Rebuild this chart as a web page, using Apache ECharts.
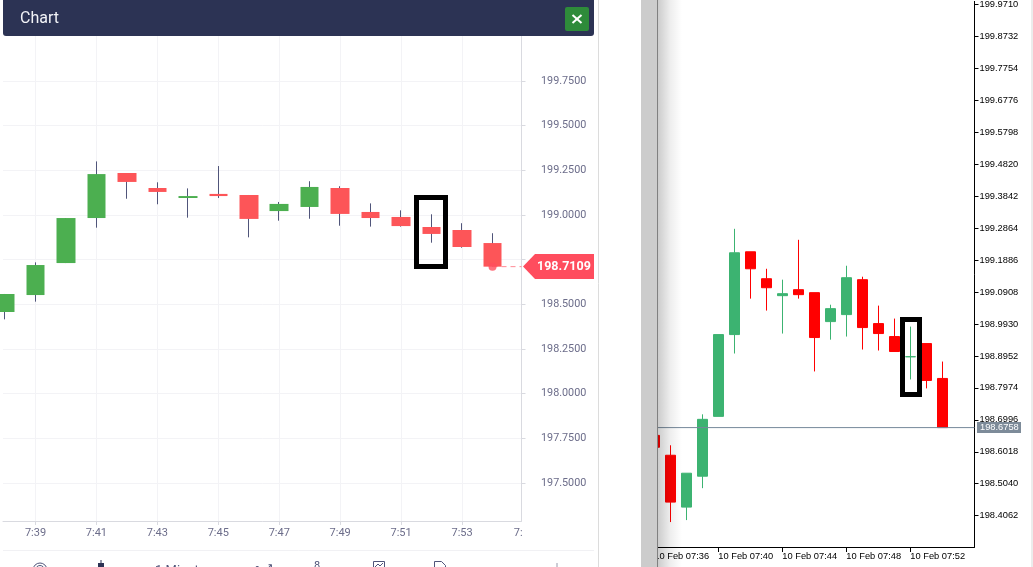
<!DOCTYPE html>
<html><head><meta charset="utf-8">
<style>html,body{margin:0;padding:0;background:#fff;overflow:hidden}#c{width:1033px;height:567px}</style>
<script src="https://cdn.jsdelivr.net/npm/echarts@6/dist/echarts.min.js"></script>
</head><body><div id="c"></div>
<script>
// Left chart (web terminal) data: minutes past 7:00
const leftMinutes = [38,39,40,41,42,43,44,45,46,47,48,49,50,51,52,53,54];
const leftOpen  = [198.457,198.552,198.731,198.983,199.235,199.151,199.095,199.118,199.112,199.022,199.045,199.151,199.017,198.989,198.933,198.916,198.843];
const leftClose = [198.558,198.720,198.983,199.229,199.185,199.129,199.106,199.106,198.978,199.062,199.157,199.006,198.983,198.938,198.894,198.821,198.7109];
const leftLow   = [198.416,198.515,198.731,198.929,199.091,199.060,198.985,199.095,198.875,198.968,198.979,198.940,198.935,198.935,198.845,198.817,198.7109];
const leftHigh  = [198.558,198.735,198.983,199.300,199.235,199.183,199.149,199.274,199.112,199.073,199.189,199.161,199.065,199.026,199.004,198.954,198.898];
const leftPriceTicks = [199.75,199.5,199.25,199,198.75,198.5,198.25,198,197.75,197.5];
const leftTimeTicks = [39,41,43,45,47,49,51,53];
const leftTimeLabels = ['7:39','7:41','7:43','7:45','7:47','7:49','7:51','7:53'];
const leftLastPrice = 198.7109;

// Right chart (MetaTrader) data
const rightMinutes = [36,37,38,39,40,41,42,43,44,45,46,47,48,49,50,51,52,53,54];
const rightOpen  = [198.652,198.5912,198.4324,198.5270,198.7102,198.9606,199.214,199.1316,199.0797,199.098,199.0889,199.0003,199.0217,199.1286,198.9942,198.9545,198.8925,198.9331,198.8263];
const rightClose = [198.6156,198.4477,198.5362,198.7011,198.9606,199.211,199.162,199.104,199.0858,199.0828,198.9515,199.04,199.1347,198.982,198.9637,198.9087,198.8930,198.8202,198.6758];
const rightLow   = [198.6156,198.3866,198.3927,198.4904,198.7102,198.9026,199.0706,199.034,198.9637,199.0706,198.8477,198.945,198.9545,198.9148,198.9118,198.9087,198.8232,198.7958,198.6758];
const rightHigh  = [198.652,198.6217,198.5362,198.7164,198.9606,199.2843,199.214,199.162,199.1286,199.2507,199.0889,199.052,199.1713,199.1377,199.0492,199.0095,198.985,198.9331,198.878];
const rightPriceTicks = [199.971,199.8732,199.7754,199.6776,199.5798,199.482,199.3842,199.2864,199.1886,199.0908,198.993,198.8952,198.7974,198.6996,198.6018,198.504,198.4062];
const rightTimeTicks = [36,40,44,48,52];
const rightTimeLabels = ['10 Feb 07:36','10 Feb 07:40','10 Feb 07:44','10 Feb 07:48','10 Feb 07:52'];
const rightLastPrice = 198.6758;

const chart = echarts.init(document.getElementById('c'), null, {renderer:'canvas'});
const L_MIN = 37.934, L_MAX = 54.951, R_MIN = 35.231, R_MAX = 56.01;
const leftAxisColor = '#d9dae0', leftSplit = '#f3f3f6', leftText = '#6c6d8a';
const navy = '#2c3354', tagRed = '#ff4d5e';

chart.setOption({
  animation:false,
  backgroundColor:'#ffffff',
  grid:[
    {left:3, top:36, width:518.5, height:485, containLabel:false},
    {left:642, top:0, width:332.5, height:547, containLabel:false}
  ],
  xAxis:[
    {type:'value', gridIndex:0, min:L_MIN, max:L_MAX, position:'bottom',
     axisLine:{lineStyle:{color:leftAxisColor}},
     axisTick:{length:4, lineStyle:{color:leftAxisColor}, customValues:leftTimeTicks},
     splitLine:{show:true, lineStyle:{color:leftSplit}},
     axisLabel:{customValues:leftTimeTicks.concat([54.84]), color:leftText, fontFamily:'Roboto', fontSize:11, margin:7,
       formatter:v=>{const i=leftTimeTicks.indexOf(v); return i>=0?leftTimeLabels[i]:'7:';}}},
    {type:'value', gridIndex:1, min:R_MIN, max:R_MAX, position:'bottom',
     axisLine:{lineStyle:{color:'#000'}},
     axisTick:{length:5, lineStyle:{color:'#000'}, customValues:rightTimeTicks},
     splitLine:{show:false},
     axisLabel:{customValues:rightTimeTicks, color:'#000', fontFamily:'Liberation Sans', fontSize:9.3, margin:5, align:'left',
       formatter:v=>rightTimeLabels[rightTimeTicks.indexOf(v)]}}
  ],
  yAxis:[
    {type:'value', gridIndex:0, position:'right', min:197.2874, max:200.0018,
     axisLine:{show:true, lineStyle:{color:leftAxisColor}},
     axisTick:{show:true, length:4, lineStyle:{color:leftAxisColor}, customValues:leftPriceTicks},
     splitLine:{show:true, lineStyle:{color:leftSplit}},
     axisLabel:{customValues:leftPriceTicks, color:leftText, fontFamily:'Roboto', fontSize:10.8, margin:19.5, padding:[2,0,0,0], formatter:v=>v.toFixed(4)}},
    {type:'value', gridIndex:1, position:'right', min:198.3103, max:199.9805,
     axisLine:{show:true, lineStyle:{color:'#000'}},
     axisTick:{show:true, length:4, lineStyle:{color:'#000'}, customValues:rightPriceTicks},
     splitLine:{show:false},
     axisLabel:{customValues:rightPriceTicks, color:'#000', fontFamily:'Liberation Sans', fontSize:9.3, margin:5, formatter:v=>v.toFixed(4)}}
  ],
  series:[
    {type:'candlestick', name:'wicks', xAxisIndex:0, yAxisIndex:0, barWidth:1, z:2,
     itemStyle:{color:'#50557a',color0:'#50557a',borderColor:'#50557a',borderColor0:'#50557a',borderWidth:1},
     data:leftMinutes.map((m,i)=>[m,leftOpen[i],leftClose[i],leftLow[i],leftHigh[i]])},
    {type:'candlestick', name:'bodies', xAxisIndex:0, yAxisIndex:0, barWidth:19, z:3,
     itemStyle:{color:'#4caf50',color0:'#fd5558',borderColor:'#4caf50',borderColor0:'#fd5558',borderWidth:0},
     data:leftMinutes.map((m,i)=>[m,leftOpen[i],leftClose[i],Math.min(leftOpen[i],leftClose[i]),Math.max(leftOpen[i],leftClose[i])])},
    {type:'line', xAxisIndex:0, yAxisIndex:0, symbol:'none', z:3, silent:true,
     lineStyle:{color:'#ff8a94', width:1, type:[5,4]},
     data:[[leftMinutes[leftMinutes.length-1],leftLastPrice],[L_MAX,leftLastPrice]]},
    {type:'scatter', xAxisIndex:0, yAxisIndex:0, symbolSize:8, z:4, itemStyle:{color:tagRed},
     data:[[leftMinutes[leftMinutes.length-1],leftLastPrice]]},
    {type:'line', xAxisIndex:1, yAxisIndex:1, symbol:'none', z:4, silent:true,
     lineStyle:{color:'#76889a', width:1},
     data:[[R_MIN,rightLastPrice],[R_MAX,rightLastPrice]]},
    {type:'candlestick', xAxisIndex:1, yAxisIndex:1, barWidth:10, z:3,
     itemStyle:{color:'#3cb371',color0:'#ff0000',borderColor:'#3cb371',borderColor0:'#ff0000',borderWidth:1},
     data:rightMinutes.map((m,i)=>[m,rightOpen[i],rightClose[i],rightLow[i],rightHigh[i]])}
  ],
  graphic:[
    // left panel frame
    {type:'rect', z:60, shape:{x:3,y:0,width:591,height:36,r:[0,0,3,3]}, style:{fill:navy}},
    {type:'text', z:61, x:20, y:19, style:{text:'Chart', fill:'#f2f3f7', font:'16px Roboto', textVerticalAlign:'middle'}},
    {type:'rect', z:61, shape:{x:565,y:7,width:24,height:24,r:2}, style:{fill:'#2e8b3a'}},
    {type:'line', z:62, shape:{x1:572.5,y1:15,x2:581.5,y2:23}, style:{stroke:'#fff',lineWidth:2}},
    {type:'line', z:62, shape:{x1:581.5,y1:15,x2:572.5,y2:23}, style:{stroke:'#fff',lineWidth:2}},
    {type:'line', z:60, shape:{x1:598.5,y1:0,x2:598.5,y2:567}, style:{stroke:'#dcdcdc',lineWidth:1}},
    // price tag
    {type:'polygon', z:60, shape:{points:[[523,266.5],[535,254],[594,254],[594,279],[535,279]]}, style:{fill:tagRed}},
    {type:'text', z:61, x:537, y:267, style:{text:'198.7109', fill:'#fff', font:'bold 12.5px Roboto', textVerticalAlign:'middle'}},
    // highlight boxes
    {type:'rect', z:60, shape:{x:416.5,y:197.5,width:29,height:69}, style:{fill:'none',stroke:'#000',lineWidth:5}},
    {type:'rect', z:60, shape:{x:902.5,y:319.5,width:17,height:75}, style:{fill:'none',stroke:'#000',lineWidth:5}},
    // bottom toolbar, cut by the window
    {type:'line', z:60, shape:{x1:3,y1:550.5,x2:594,y2:550.5}, style:{stroke:'#f1f1f4',lineWidth:1}},
    {type:'circle', z:60, shape:{cx:40,cy:570,r:7}, style:{fill:'none',stroke:'#50557a',lineWidth:1}},
    {type:'circle', z:60, shape:{cx:40,cy:570,r:4.5}, style:{fill:'none',stroke:'#50557a',lineWidth:1}},
    {type:'rect', z:60, shape:{x:98,y:563,width:6,height:6}, style:{fill:'#2c3354'}},
    {type:'line', z:60, shape:{x1:101,y1:560,x2:101,y2:564}, style:{stroke:'#2c3354',lineWidth:1}},
    {type:'text', z:60, x:155, y:564.5, style:{text:'1 Minute', fill:'#50557a', font:'13px Roboto'}},
    {type:'text', z:60, x:254, y:562.5, style:{text:'\u2022 \u2197', fill:'#50557a', font:'11px "DejaVu Sans"'}},
    {type:'text', z:60, x:314, y:561, style:{text:'8', fill:'#50557a', font:'11px Roboto'}},
    {type:'rect', z:60, shape:{x:373.5,y:561.5,width:11,height:10}, style:{fill:'none',stroke:'#50557a',lineWidth:1}},
    {type:'polyline', z:60, shape:{points:[[375,567],[378,564],[380,566],[383,563]]}, style:{fill:'none',stroke:'#50557a',lineWidth:1}},
    {type:'polygon', z:60, shape:{points:[[434.5,571],[434.5,561.5],[441.5,561.5],[445.5,565.5],[445.5,571]]}, style:{fill:'none',stroke:'#50557a',lineWidth:1}},
    {type:'line', z:60, shape:{x1:557,y1:563,x2:557,y2:567}, style:{stroke:'#999aac',lineWidth:1}},
    // right window: splitter and its shadow over the chart
    {type:'rect', z:70, shape:{x:658,y:0,width:24,height:567}, style:{fill:new echarts.graphic.LinearGradient(0,0,1,0,[{offset:0,color:'rgba(0,0,0,0.2)'},{offset:0.5,color:'rgba(0,0,0,0.07)'},{offset:1,color:'rgba(0,0,0,0)'}])}},
    {type:'rect', z:71, shape:{x:641,y:0,width:16,height:567}, style:{fill:'#cccccc'}},
    {type:'rect', z:71, shape:{x:657,y:0,width:1,height:567}, style:{fill:'#808080'}},
    {type:'rect', z:60, shape:{x:1031,y:0,width:2,height:567}, style:{fill:'#ececec'}},
    // last price label
    {type:'rect', z:60, shape:{x:977,y:422,width:44,height:11}, style:{fill:'#7d8b99'}},
    {type:'text', z:61, x:980, y:427.5, style:{text:'198.6758', fill:'#fff', font:'9.3px "Liberation Sans"', textVerticalAlign:'middle'}}
  ]
});
</script></body></html>
